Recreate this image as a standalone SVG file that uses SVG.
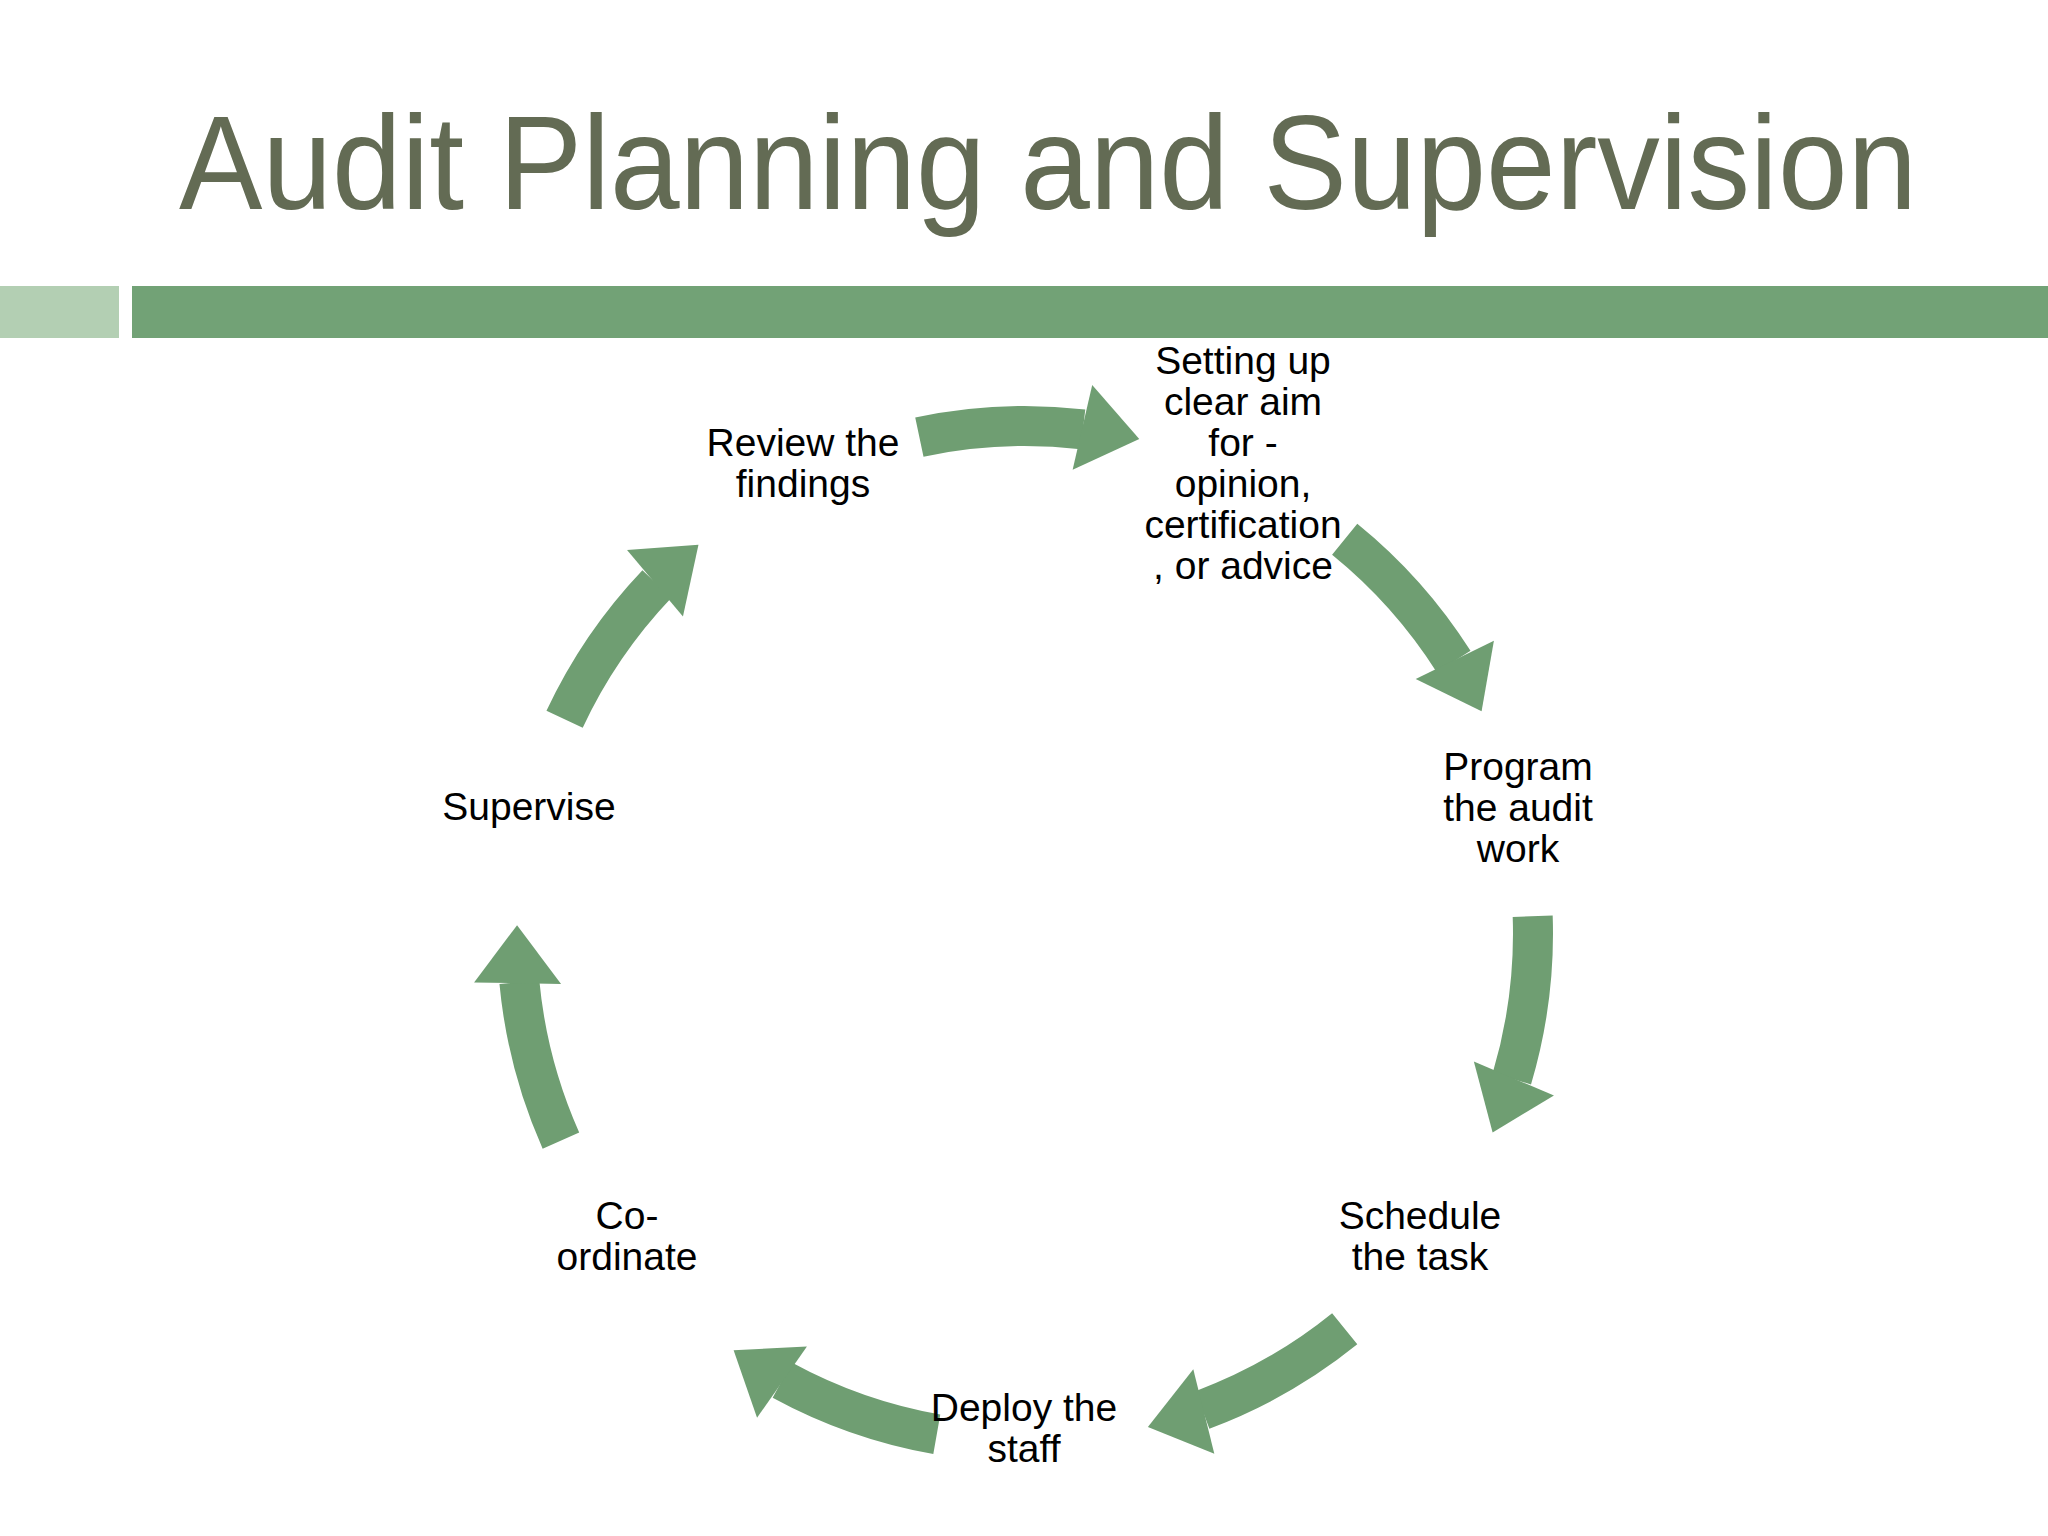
<svg xmlns="http://www.w3.org/2000/svg" width="2048" height="1536" viewBox="0 0 2048 1536">
<style>
.t{font-family:"Liberation Sans",Arial,sans-serif;font-size:39px;fill:#000;text-anchor:middle}
.shaft{fill:none;stroke:#6f9e72;stroke-width:40}
.head{fill:#6f9e72}
</style>
<defs>
<g id="arr">
<path class="shaft" d="M1485.4,719.3 A508,508 0 0 1 1529.7,877"/>
<polygon class="head" points="1488,876 1575,876 1533,934"/>
</g>
</defs>
<rect width="2048" height="1536" fill="#fff"/>
<text x="1048" y="209" font-family="Liberation Sans,Arial,sans-serif" font-size="134" fill="#636b54" text-anchor="middle" textLength="1738" lengthAdjust="spacingAndGlyphs">Audit Planning and Supervision</text>
<rect x="0" y="286" width="119" height="52" fill="#b3cfb3"/>
<rect x="132" y="286" width="1916" height="52" fill="#72a276"/>
<g id="connectors">
<use href="#arr" transform="rotate(-77 1025 934)"/>
<use href="#arr" transform="rotate(-26 1025 934)"/>
<use href="#arr" transform="rotate(23 1025 934)"/>
<use href="#arr" transform="rotate(76 1025 934)"/>
<use href="#arr" transform="rotate(125 1025 934)"/>
<use href="#arr" transform="rotate(181 1025 934)"/>
<use href="#arr" transform="rotate(230 1025 934)"/>
</g>
<g id="n1"><text class="t" x="1243" y="374">Setting up</text><text class="t" x="1243" y="415">clear aim</text><text class="t" x="1243" y="456">for -</text><text class="t" x="1243" y="497">opinion,</text><text class="t" x="1243" y="538">certification</text><text class="t" x="1243" y="579">, or advice</text></g>
<g id="n2"><text class="t" x="1518" y="780">Program</text><text class="t" x="1518" y="821">the audit</text><text class="t" x="1518" y="862">work</text></g>
<g id="n3"><text class="t" x="1420" y="1229">Schedule</text><text class="t" x="1420" y="1270">the task</text></g>
<g id="n4"><text class="t" x="1024" y="1421">Deploy the</text><text class="t" x="1024" y="1462">staff</text></g>
<g id="n5"><text class="t" x="627" y="1229">Co-</text><text class="t" x="627" y="1270">ordinate</text></g>
<g id="n6"><text class="t" x="529" y="820">Supervise</text></g>
<g id="n7"><text class="t" x="803" y="456">Review the</text><text class="t" x="803" y="497">findings</text></g>
</svg>
